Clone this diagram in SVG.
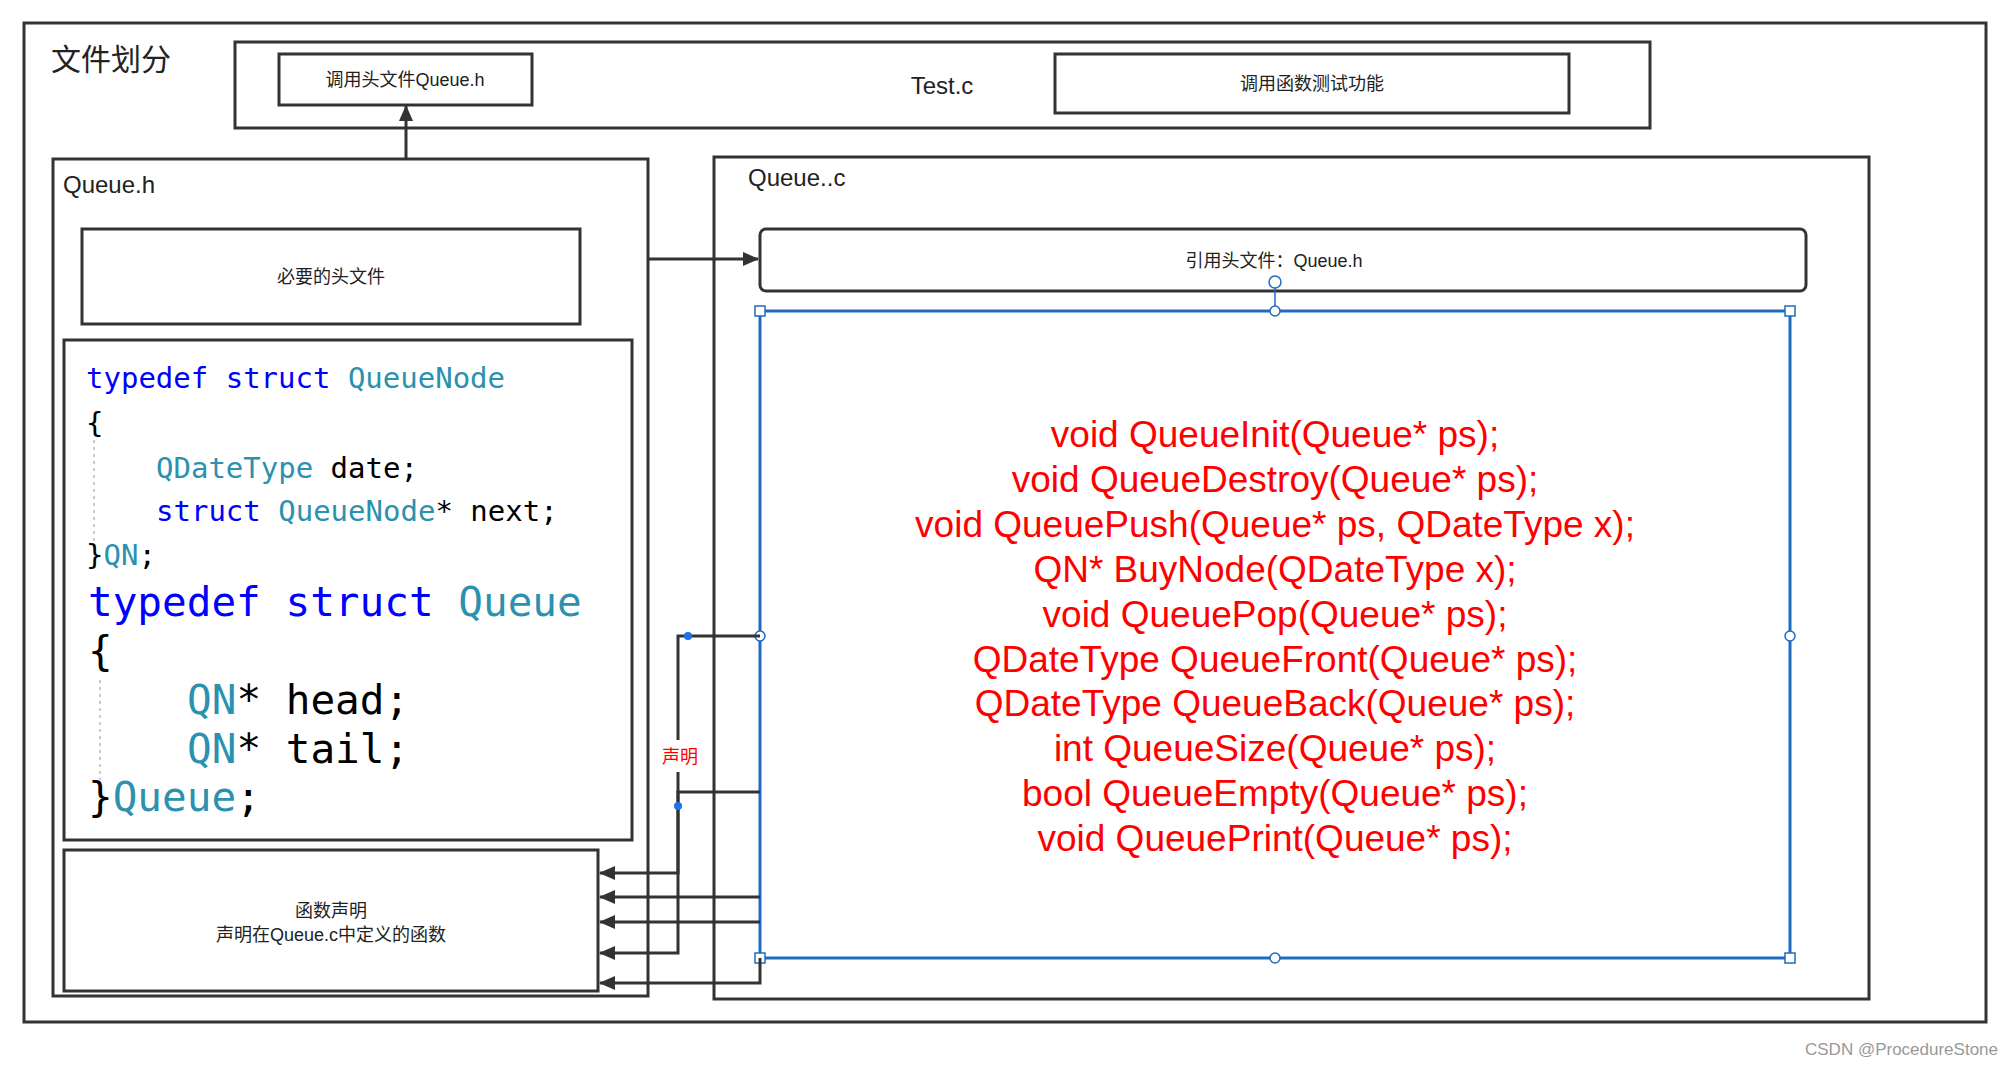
<svg xmlns="http://www.w3.org/2000/svg" width="2013" height="1066" viewBox="0 0 2013 1066">
<style>
.b{fill:#fff;stroke:#333;stroke-width:3}
.t{font-family:"Liberation Sans","Noto Sans CJK SC",sans-serif;fill:#222}
.c{font-family:"Liberation Sans","Noto Sans CJK SC",sans-serif;font-size:18px;fill:#222;text-anchor:middle}
.m{font-family:"DejaVu Sans Mono",monospace;fill:#000}
.k{fill:#0000ff}.y{fill:#2b91af}
.r{font-family:"Liberation Sans",sans-serif;font-size:37px;fill:#ff0000;text-anchor:middle}
.ln{fill:none;stroke:#333;stroke-width:3}
.h{fill:#fff;stroke:#1f6bbf;stroke-width:1.5}
</style>
<defs><marker id="a" markerWidth="16" markerHeight="14" refX="15" refY="7" orient="auto" markerUnits="userSpaceOnUse"><path d="M0,0L16,7L0,14z" fill="#333"/></marker></defs>
<rect x="0" y="0" width="2013" height="1066" fill="#fff"/>
<g id="outer"><rect class="b" x="24" y="23" width="1962" height="999"/><text class="t" x="51" y="70" font-size="30">文件划分</text></g>
<g id="testc"><rect class="b" x="235" y="42" width="1415" height="86"/><text class="t" x="942" y="94" font-size="24" text-anchor="middle">Test.c</text></g>
<g id="callh"><rect class="b" x="279" y="54" width="253" height="51"/><text class="c" x="405" y="86">调用头文件Queue.h</text></g>
<g id="callf"><rect class="b" x="1055" y="54" width="514" height="59"/><text class="c" x="1312" y="90">调用函数测试功能</text></g>
<g id="queueh"><rect class="b" x="53" y="159" width="595" height="837"/><text class="t" x="63" y="193" font-size="24">Queue.h</text></g>
<g id="need"><rect class="b" x="82" y="229" width="498" height="95"/><text class="c" x="331" y="283">必要的头文件</text></g>
<g id="code"><rect class="b" x="64" y="340" width="568" height="500"/>
<g stroke="#bbb" stroke-dasharray="3,4" stroke-width="1.5"><line x1="94" y1="440" x2="94" y2="550"/><line x1="100" y1="680" x2="100" y2="780"/></g>
<text class="m" font-size="29"><tspan x="86" y="388"><tspan class="k">typedef struct</tspan> <tspan class="y">QueueNode</tspan></tspan><tspan x="86" y="433">{</tspan><tspan x="156" y="478"><tspan class="y">QDateType</tspan> date;</tspan><tspan x="156" y="521"><tspan class="k">struct</tspan> <tspan class="y">QueueNode</tspan>* next;</tspan><tspan x="86" y="565">}<tspan class="y">QN</tspan>;</tspan></text>
<text class="m" font-size="41"><tspan x="88" y="616"><tspan class="k">typedef struct</tspan> <tspan class="y">Queue</tspan></tspan><tspan x="88" y="665">{</tspan><tspan x="187" y="714"><tspan class="y">QN</tspan>* head;</tspan><tspan x="187" y="763"><tspan class="y">QN</tspan>* tail;</tspan><tspan x="88" y="811">}<tspan class="y">Queue</tspan>;</tspan></text></g>
<g id="decl"><rect class="b" x="64" y="850" width="534" height="141"/><text class="c" x="331" y="917">函数声明</text><text class="c" x="331" y="941">声明在Queue.c中定义的函数</text></g>
<g id="queuec"><rect class="b" x="714" y="157" width="1155" height="842"/><text class="t" x="748" y="186" font-size="24">Queue..c</text></g>
<g id="inc"><rect class="b" x="760" y="229" width="1046" height="62" rx="6"/><text class="c" x="1274" y="267">引用头文件：Queue.h</text></g>
<g id="funcs"><rect x="760" y="311" width="1030" height="647" fill="#fff" stroke="#1f6bbf" stroke-width="3"/>
<text class="r"><tspan x="1275" y="447">void QueueInit(Queue* ps);</tspan><tspan x="1275" y="492">void QueueDestroy(Queue* ps);</tspan><tspan x="1275" y="537">void QueuePush(Queue* ps, QDateType x);</tspan><tspan x="1275" y="582">QN* BuyNode(QDateType x);</tspan><tspan x="1275" y="627">void QueuePop(Queue* ps);</tspan><tspan x="1275" y="672">QDateType QueueFront(Queue* ps);</tspan><tspan x="1275" y="716">QDateType QueueBack(Queue* ps);</tspan><tspan x="1275" y="761">int QueueSize(Queue* ps);</tspan><tspan x="1275" y="806">bool QueueEmpty(Queue* ps);</tspan><tspan x="1275" y="851">void QueuePrint(Queue* ps);</tspan></text>
<line x1="1275" y1="288" x2="1275" y2="311" stroke="#1f6bbf" stroke-width="1.5"/><circle class="h" cx="1275" cy="282" r="6"/>
<rect class="h" x="755" y="306" width="10" height="10"/><rect class="h" x="1785" y="306" width="10" height="10"/><rect class="h" x="755" y="953" width="10" height="10"/><rect class="h" x="1785" y="953" width="10" height="10"/>
<circle class="h" cx="1275" cy="311" r="5"/><circle class="h" cx="1275" cy="958" r="5"/><circle class="h" cx="760" cy="636" r="5"/><circle class="h" cx="1790" cy="636" r="5"/></g>
<g id="connectors">
<path class="ln" d="M406,159V106" marker-end="url(#a)"/>
<path class="ln" d="M648,259H758" marker-end="url(#a)"/>
<path class="ln" d="M760,636H678V740M678,772V953H600" marker-end="url(#a)"/>
<path class="ln" d="M760,792H678V873H600" marker-end="url(#a)"/>
<path class="ln" d="M760,897H600" marker-end="url(#a)"/>
<path class="ln" d="M760,922H600" marker-end="url(#a)"/>
<path class="ln" d="M760,958V983H600" marker-end="url(#a)"/>
<circle cx="688" cy="636" r="4" fill="#1a73e8"/><circle cx="678" cy="806" r="4" fill="#1a73e8"/>
<text x="680" y="763" font-family="Liberation Sans,Noto Sans CJK SC,sans-serif" font-size="18" fill="#ff0000" text-anchor="middle">声明</text>
</g>
<text x="1998" y="1055" font-family="Liberation Sans,sans-serif" font-size="17" fill="#999" text-anchor="end">CSDN @ProcedureStone</text>
</svg>
